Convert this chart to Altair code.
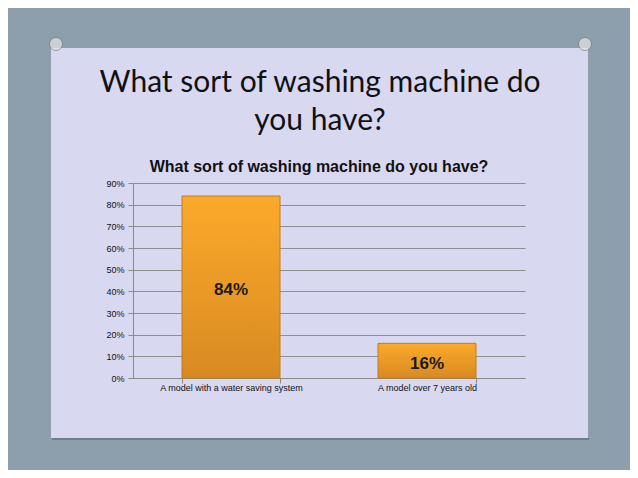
import altair as alt
import pandas as pd

categories = ["A model with a water saving system", "A model over 7 years old"]
values = [0.84, 0.16]
bar_labels = ["84%", "16%"]
y_ticks = [0, 0.1, 0.2, 0.3, 0.4, 0.5, 0.6, 0.7, 0.8, 0.9]
slide_title = ["What sort of washing machine do", "you have?"]
chart_title = "What sort of washing machine do you have?"

df = pd.DataFrame({"cat": categories, "val": values, "lab": bar_labels})
df["half"] = df["val"] / 2
one = pd.DataFrame({"a": [0]})

LAV = "#d8d8f1"
FRAME = "#8d9fac"

x_axis = alt.Axis(labelAngle=0, labelFont="Liberation Sans", labelFontSize=9,
                  labelColor="#111", domainColor="#8a8a8a", tickColor="#8a8a8a",
                  tickBand="extent", tickSize=5, labelPadding=0, grid=False)
y_axis = alt.Axis(values=y_ticks, format=".0%", labelFont="Liberation Sans",
                  labelFontSize=9, labelColor="#111", domainColor="#8a8a8a",
                  tickColor="#8a8a8a", tickSize=5, labelPadding=4,
                  labelOverlap=False, gridColor="#8f8f8f", gridWidth=1)
x_scale = alt.Scale(paddingInner=0.5, paddingOuter=0.25)
y_scale = alt.Scale(domain=[0, 0.9], nice=False)

bars = alt.Chart(df).mark_bar(
    stroke="#c07c1e", strokeWidth=1,
    color=alt.Gradient(gradient="linear", x1=0, y1=0, x2=0, y2=1,
                       stops=[alt.GradientStop(color="#fbaa2a", offset=0),
                              alt.GradientStop(color="#d88a22", offset=1)]),
).encode(
    x=alt.X("cat:N", sort=categories, title=None, scale=x_scale, axis=x_axis),
    y=alt.Y("val:Q", title=None, scale=y_scale, axis=y_axis),
)

labels = alt.Chart(df).mark_text(
    font="Liberation Sans", fontWeight="bold", fontSize=17, color="#1a1a1a",
    baseline="middle", dy=3,
).encode(
    x=alt.X("cat:N", sort=categories, title=None, scale=x_scale, axis=x_axis),
    y=alt.Y("half:Q", title=None, scale=y_scale, axis=y_axis),
    text="lab:N",
)

# slide frame (outside the lavender card)
frame_parts = [
    dict(x=-140, x2=510, y=-190, y2=-135),
    dict(x=-140, x2=510, y=255, y2=300),
    dict(x=-140, x2=-82, y=-190, y2=300),
    dict(x=455, x2=510, y=-190, y2=300),
]
frames = []
for p in frame_parts:
    frames.append(
        alt.Chart(one).mark_rect(color=FRAME).encode(
            x=alt.value(p["x"]), x2=alt.value(p["x2"]),
            y=alt.value(p["y"]), y2=alt.value(p["y2"]))
    )

shadow = alt.Chart(one).mark_rule(color="#6f7f8a", strokeWidth=2).encode(
    x=alt.value(-81), x2=alt.value(456), y=alt.value(256))

pins = [
    alt.Chart(one).mark_point(filled=True, shape="circle", size=170, color="#e6e6e6",
                              stroke="#7d7d7d", strokeWidth=1).encode(
        x=alt.value(px), y=alt.value(-139))
    for px in (-77, 452)
]

title1 = alt.Chart(one).mark_text(
    font="Lato", fontSize=30, color="#111", baseline="middle", lineHeight=38,
).encode(x=alt.value(187), y=alt.value(-100), text=alt.value(slide_title))

title2 = alt.Chart(one).mark_text(
    font="Liberation Sans", fontWeight="bold", fontSize=16, color="#111",
    baseline="middle",
).encode(x=alt.value(186), y=alt.value(-16), text=alt.value(chart_title))

chart = alt.layer(bars, labels, *frames, shadow, *pins, title1, title2).properties(
    width=392, height=195,
    autosize=alt.AutoSizeParams(type="none"),
    padding={"left": 125, "top": 175, "right": 105, "bottom": 92},
    background=LAV,
).configure_view(stroke=None)

chart.save("out.html", embed_options={"renderer": "svg", "actions": False})
